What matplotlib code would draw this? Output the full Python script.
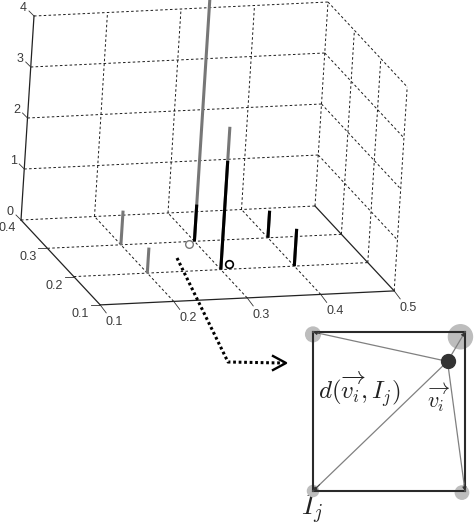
import matplotlib.pyplot as plt

plt.rcParams["font.family"] = ["Liberation Sans", "DejaVu Sans"]
plt.rcParams["mathtext.fontset"] = "cm"

x_ticks = [0.1, 0.2, 0.3, 0.4, 0.5]
y_ticks = [0.1, 0.2, 0.3, 0.4]
z_ticks = [0, 1, 2, 3, 4]

# bars: position, height of black part, full height
bar_x = [0.2, 0.2, 0.3, 0.3, 0.4, 0.4]
bar_y = [0.3, 0.2, 0.3, 0.2, 0.3, 0.2]
bar_black = [0.0, 0.0, 0.72, 2.13, 0.53, 0.73]
bar_total = [0.67, 0.5, 4.75, 2.8, 0.53, 0.73]

# open circles on the floor
gray_circle = (0.29, 0.292)
black_circle = (0.3175, 0.2176)

# inset: corner positions and weights, and the point
corner_x = [0, 1, 1, 0]
corner_y = [1, 1, 0, 0]
corner_size = [112, 300, 92, 64]
point_x = 0.885
point_y = 0.815

GRID = dict(color="#1a1a1a", lw=0.7, ls=(0, (2.6, 2.4)), zorder=1)
AXIS = dict(color="#222222", lw=0.9, zorder=2)
LABEL = "#3a3a3a"


def proj(x, y, z=0):
    px = 21 + (x - 0.1) * 735 + (0.4 - y) * 264 + z * 3.25
    py = 220 - (x - 0.1) * 35 + (0.4 - y) * 283 - z * 51
    return px, py


def seg(ax, a, b, **kw):
    pa, pb = proj(*a), proj(*b)
    ax.plot([pa[0], pb[0]], [pa[1], pb[1]], **kw)


def main():
    fig = plt.figure(figsize=(4.74, 5.26), dpi=100)
    ax = fig.add_axes([0, 0, 1, 1])
    ax.set_xlim(0, 474)
    ax.set_ylim(526, 0)
    ax.axis("off")

    x0, x1 = x_ticks[0], x_ticks[-1]
    y0, y1 = y_ticks[0], y_ticks[-1]
    z1 = z_ticks[-1]

    # floor grid
    for x in x_ticks[1:-1]:
        seg(ax, (x, y0), (x, y1), **GRID)
    for y in y_ticks[1:]:
        seg(ax, (x0, y), (x1, y), **GRID)

    # back wall and right wall
    for x in x_ticks[1:]:
        seg(ax, (x, y1, 0), (x, y1, z1), **GRID)
    for y in y_ticks[:-1]:
        seg(ax, (x1, y, 0), (x1, y, z1), **GRID)
    for z in z_ticks[1:]:
        seg(ax, (x0, y1, z), (x1, y1, z), **GRID)
        seg(ax, (x1, y1, z), (x1, y0, z), **GRID)

    # solid axes
    seg(ax, (x0, y1, 0), (x0, y1, z1), **AXIS)
    seg(ax, (x0, y1, 0), (x0, y0, 0), **AXIS)
    seg(ax, (x0, y0, 0), (x1, y0, 0), **AXIS)
    seg(ax, (x1, y1, 0), (x1, y0, 0), **AXIS)

    # tick marks and labels
    for x in x_ticks:
        px, py = proj(x, y0)
        ax.plot([px, px + 6], [py, py + 8], color="#333333", lw=0.6, zorder=2)
        ax.text(px + 14, py + 17, f"{x:.1f}", fontsize=9, color=LABEL,
                ha="center", va="center")
    for y in y_ticks:
        px, py = proj(x0, y)
        if y != y1:
            ax.plot([px - 9, px], [py, py], color="#333333", lw=0.6, zorder=2)
            ax.text(px - 11, py + 9, f"{y:.1f}", fontsize=9, color=LABEL,
                    ha="right", va="center")
        else:
            ax.text(px - 5, py + 8, f"{y:.1f}", fontsize=9, color=LABEL,
                    ha="right", va="center")
    for z in z_ticks:
        px, py = proj(x0, y1, z)
        ax.plot([px - 5, px], [py - 5, py], color="#333333", lw=0.6, zorder=2)
        ax.text(px - 11, py - 8, str(z), fontsize=9, color=LABEL,
                ha="center", va="center")

    # bars
    for i in range(len(bar_x)):
        seg(ax, (bar_x[i], bar_y[i], 0), (bar_x[i], bar_y[i], bar_total[i]),
            color="#777777", lw=2.2, solid_capstyle="butt", zorder=3)
        if bar_black[i] > 0:
            seg(ax, (bar_x[i], bar_y[i], 0), (bar_x[i], bar_y[i], bar_black[i]),
                color="black", lw=2.2, solid_capstyle="butt", zorder=4)

    # circles
    px, py = proj(*gray_circle)
    ax.plot(px, py, "o", ms=5.5, mfc="white", mec="#777777", mew=1.0, zorder=5)
    px, py = proj(*black_circle)
    ax.plot(px, py, "o", ms=5.5, mfc="white", mec="black", mew=1.2, zorder=5)

    # dotted arrow to the inset
    ax.plot([177, 228, 283], [258, 362, 363], color="black", lw=2.2,
            ls=(0, (0.9, 0.9)), zorder=6)
    ax.plot([273, 286, 273], [356, 363, 370], color="black", lw=1.7, zorder=6)

    # inset square
    inset = fig.add_axes([313 / 474, 1 - 491 / 526, 152 / 474, 159 / 526])
    inset.set_xlim(0, 1)
    inset.set_ylim(0, 1)
    inset.set_xticks([])
    inset.set_yticks([])
    inset.patch.set_alpha(0)
    for s in inset.spines.values():
        s.set_linewidth(1.5)
        s.set_color("#2a2a2a")
        s.set_zorder(3)

    inset.scatter([0.0, 0.97, 0.98, 0.0], [0.985, 0.97, -0.01, 0.0],
                  s=corner_size, color="#bdbdbd", clip_on=False, zorder=1)
    for i in range(4):
        inset.plot([point_x, corner_x[i]], [point_y, corner_y[i]],
                   color="#808080", lw=0.9, clip_on=False, zorder=4)
        # short dark head at the corner end
        hx = corner_x[i] + (point_x - corner_x[i]) * 0.05
        hy = corner_y[i] + (point_y - corner_y[i]) * 0.05
        inset.annotate("", xy=(corner_x[i], corner_y[i]), xytext=(hx, hy),
                       annotation_clip=False, zorder=5,
                       arrowprops=dict(arrowstyle="-|>", color="#333333", lw=0.6,
                                       mutation_scale=6, shrinkA=0, shrinkB=0))
    inset.scatter([point_x], [point_y], s=100, color="#333333", zorder=6)

    ax.text(359, 389, r"$d(\overrightarrow{v_i},I_j)$", fontsize=18,
            color="#222222", ha="center", va="center", zorder=7)
    ax.text(439, 398, r"$\overrightarrow{v_i}$", fontsize=16,
            color="#222222", ha="center", va="center", zorder=7)
    ax.text(312, 510, r"$I_j$", fontsize=20, color="#222222",
            ha="center", va="center", zorder=7)

    fig.savefig("out.png", dpi=100)


if __name__ == "__main__":
    main()
